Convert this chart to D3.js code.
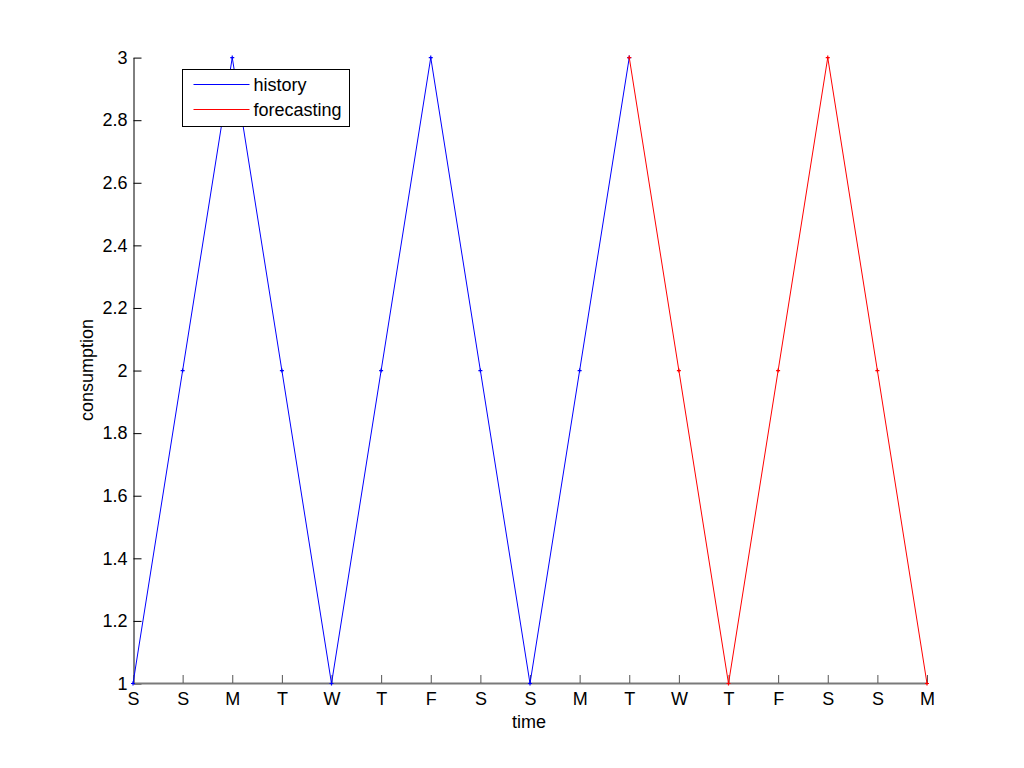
<!DOCTYPE html>
<html>
<head>
<meta charset="utf-8">
<script src="https://cdn.jsdelivr.net/npm/d3@7"></script>
<style>
  body { margin: 0; background: #fff; }
  svg { display: block; }
  text { font-family: "Liberation Sans", Arial, Helvetica, sans-serif; }
</style>
</head>
<body>
<svg id="chart" width="1024" height="768"></svg>
<script>
// days shown under each sample
var days = ["S", "S", "M", "T", "W", "T", "F", "S", "S", "M", "T", "W", "T", "F", "S", "S", "M"];
// history: samples 0..10
var historyIdx = [0, 1, 2, 3, 4, 5, 6, 7, 8, 9, 10];
var historyVal = [1, 2, 3, 2, 1, 2, 3, 2, 1, 2, 3];
// forecasting: samples 10..16
var forecastIdx = [10, 11, 12, 13, 14, 15, 16];
var forecastVal = [3, 2, 1, 2, 3, 2, 1];
var yTicks = [1, 1.2, 1.4, 1.6, 1.8, 2, 2.2, 2.4, 2.6, 2.8, 3];

var svg = d3.select("#chart");
var FONT = 18;

var x = d3.scaleLinear().domain([0, days.length - 1]).range([133, 927]);
var y = d3.scaleLinear().domain([1, 3]).range([683.5, 57.6]);

// y axis, ticks pointing in
var yAxis = svg.append("g")
    .attr("transform", "translate(133.5,0)")
    .call(d3.axisLeft(y)
        .tickValues(yTicks)
        .tickFormat(function(d) { return String(+d.toFixed(1)); })
        .tickSizeInner(-8)
        .tickSizeOuter(0)
        .tickPadding(6));
yAxis.attr("font-family", null);
yAxis.selectAll("text").style("font-size", FONT + "px").attr("fill", "#000");
yAxis.selectAll("line, path").attr("stroke", "#000");

// x axis
var xAxis = svg.append("g")
    .attr("transform", "translate(0,683)")
    .call(d3.axisBottom(x)
        .tickValues(d3.range(days.length))
        .tickFormat(function(d) { return days[d]; })
        .tickSizeInner(-8)
        .tickSizeOuter(0)
        .tickPadding(9));
xAxis.attr("font-family", null);
xAxis.selectAll("text").style("font-size", FONT + "px").attr("fill", "#000");
xAxis.select("path.domain").attr("stroke", "#7a7a7a").attr("stroke-width", 2);
xAxis.selectAll(".tick line").attr("stroke", "#555");

// lines
var line = d3.line()
    .x(function(d) { return x(d[0]); })
    .y(function(d) { return y(d[1]); });

function drawSeries(idx, val, color) {
    var pts = idx.map(function(d, i) { return [d, val[i]]; });
    svg.append("path")
        .datum(pts)
        .attr("d", line)
        .attr("fill", "none")
        .attr("stroke", color)
        .attr("stroke-width", 1);
    svg.append("g").selectAll("path")
        .data(pts)
        .enter()
        .append("path")
        .attr("d", function(d) {
            var cx = x(d[0]), cy = y(d[1]);
            return "M" + (cx - 2) + "," + cy + "H" + (cx + 2) +
                   "M" + cx + "," + (cy - 2) + "V" + (cy + 2);
        })
        .attr("stroke", color)
        .attr("stroke-width", 1.2);
}
drawSeries(historyIdx, historyVal, "#0000ff");
drawSeries(forecastIdx, forecastVal, "#ff0000");

// axis labels
svg.append("text")
    .attr("x", 529)
    .attr("y", 728)
    .attr("text-anchor", "middle")
    .style("font-size", FONT + "px")
    .text("time");
svg.append("text")
    .attr("transform", "translate(93,370) rotate(-90)")
    .attr("text-anchor", "middle")
    .style("font-size", FONT + "px")
    .text("consumption");

// legend
var legend = svg.append("g").attr("transform", "translate(182.5,69.5)");
legend.append("rect")
    .attr("width", 167)
    .attr("height", 57)
    .attr("fill", "#fff")
    .attr("stroke", "#000");
var entries = [["history", "#0000ff"], ["forecasting", "#ff0000"]];
entries.forEach(function(e, i) {
    var ly = 15 + i * 25;
    legend.append("line")
        .attr("x1", 11).attr("x2", 67)
        .attr("y1", ly).attr("y2", ly)
        .attr("stroke", e[1]);
    legend.append("text")
        .attr("x", 71)
        .attr("y", ly + 6)
        .style("font-size", FONT + "px")
        .text(e[0]);
});
</script>
</body>
</html>
